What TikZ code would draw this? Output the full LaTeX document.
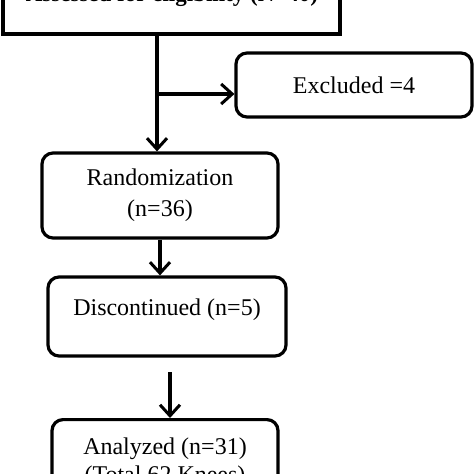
\documentclass[tikz,border=0pt]{standalone}
\usepackage{fontspec}
\setmainfont{Liberation Serif}
\usetikzlibrary{arrows.meta}
\begin{document}
\begin{tikzpicture}[x=1pt,y=-1pt,
  every node/.style={font=\fontsize{24}{31}\selectfont},
  boxsq/.style={draw,line width=3.2pt,minimum width=337pt,minimum height=70pt,inner sep=0pt},
  boxrd/.style={draw,line width=3.2pt,rounded corners=11pt,align=center,inner sep=0pt},
  arr/.style={line width=3.2pt,-{Straight Barb[length=11pt,width=20pt,line width=3pt]}},
  ln/.style={line width=3.2pt}]
\useasboundingbox (0,0) rectangle (474,474);
\begin{scope}
\clip (0,0) rectangle (474,474);
\node[boxsq] (top) at (171.5,-1) {};
\node[font=\fontsize{23}{28}\selectfont\bfseries] (toptext) at (172,-4) {Assessed for eligibility (N=40)};
\node[boxrd,minimum width=236pt,minimum height=64pt] (excl) at (354,85) {Excluded =4};
\node[boxrd,minimum width=236pt,minimum height=85pt] (rand) at (160,195.5) {\rule{0pt}{6pt}Randomization\\(n=36)};
\node[boxrd,minimum width=238pt,minimum height=79pt] (disc) at (167,316.5) {Discontinued (n=5)\\[-22pt] \strut};
\node[boxrd,minimum width=226pt,anchor=north,inner ysep=18pt] (ana) at (165,418) {Analyzed (n=31)\\[-3pt](Total 62 Knees)\\ \strut};
\coordinate (j) at (157,94);
\coordinate (c3) at (170,372);
\draw[ln] (j |- top.south) -- (j);
\draw[arr] (j) -- (j |- rand.north);
\draw[arr] (j) -- (j -| excl.west);
\draw[arr] (rand.south) -- (rand.south |- disc.north);
\draw[arr] (c3) -- (c3 |- ana.north);
\end{scope}
\end{tikzpicture}
\end{document}
